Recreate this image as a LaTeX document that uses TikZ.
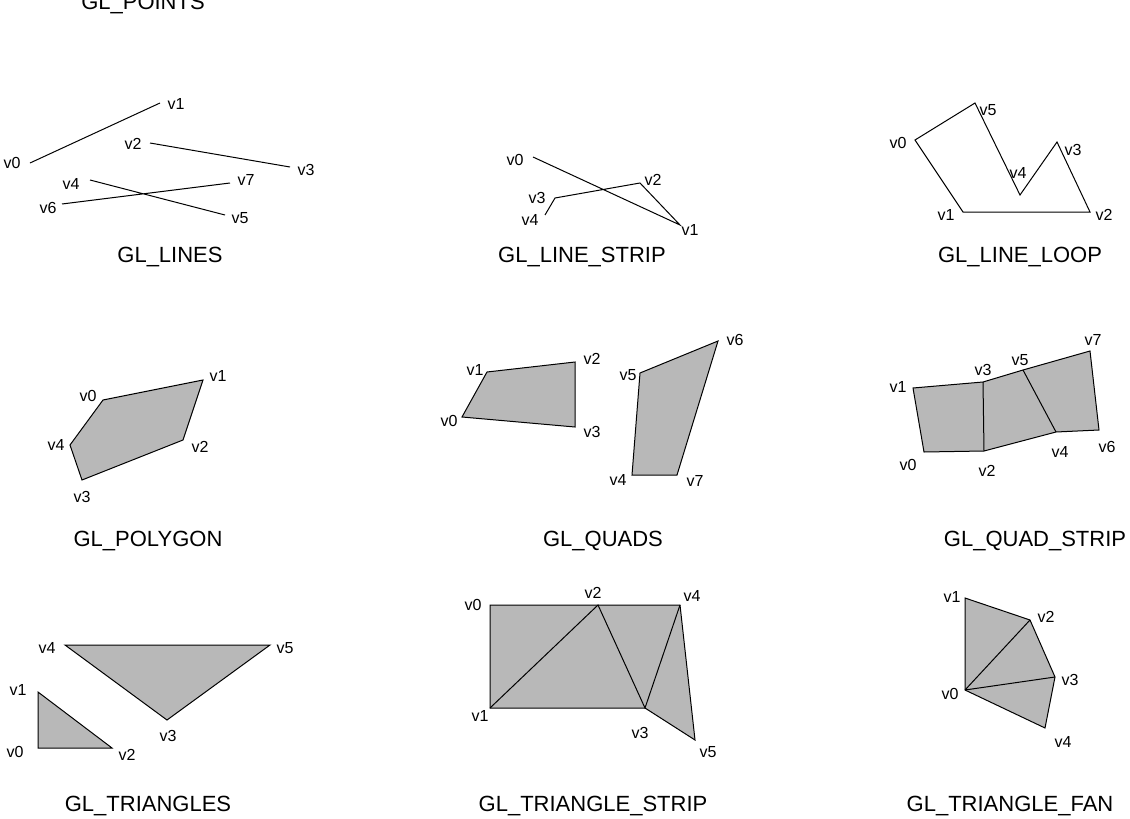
\documentclass[tikz,border=0pt]{standalone}
\usepackage{fontspec}
\setmainfont{Liberation Sans}
\usetikzlibrary{positioning}
\tikzset{vlabel/.style={inner sep=0pt,font=\fontsize{16}{16}\selectfont},
         caption/.style={inner sep=0pt,font=\fontsize{22}{22}\selectfont},
         edge/.style={draw,line width=1pt},
         face/.style={edge,fill=black!28}
}

\begin{document}
\begin{tikzpicture}[x=1pt,y=-1pt]
\useasboundingbox (0,0) rectangle (1130,819);

% GL_POINTS (cut at the top)
\node[caption] (cpoints) at (143,4) {GL\_POINTS};

% GL_LINES
\foreach \n/\p in {0/{30,163},1/{160,103},2/{150,143},3/{290,167},4/{90,180},5/{225,215},6/{62,204},7/{230,183}}
  \coordinate (l\n) at (\p);
\foreach \n/\p in {0/{12,163},1/{176,104},2/{133,144},3/{306,170},4/{71,184},5/{240,218},6/{48,208},7/{246,180}}
  \node[vlabel] (ll\n) at (\p) {v\n};
\draw[edge] (l0)--(l1) (l2)--(l3) (l4)--(l5) (l6)--(l7);
\node[caption] (clines) at (170,257) {GL\_LINES};

% GL_LINE_STRIP
\foreach \n/\p in {0/{533,157},1/{680,225},2/{640,183},3/{555,198},4/{545,215}}
  \coordinate (s\n) at (\p);
\foreach \n/\p in {0/{515,160},1/{690,230},2/{653,180},3/{537,198},4/{530,220}}
  \node[vlabel] (sl\n) at (\p) {v\n};
\draw[edge] (s0)--(s1)--(s2)--(s3)--(s4);
\node[caption] (cstrip) at (582,257) {GL\_LINE\_STRIP};

% GL_LINE_LOOP
\foreach \n/\p in {0/{915,140},1/{963,212},2/{1090,212},3/{1057,142},4/{1020,195},5/{975,103}}
  \coordinate (o\n) at (\p);
\foreach \n/\p in {0/{898,143},1/{946,215},2/{1104,215},3/{1073,150},4/{1018,173},5/{988,110}}
  \node[vlabel] (ol\n) at (\p) {v\n};
\draw[edge] (o0)--(o1)--(o2)--(o3)--(o4)--(o5)--cycle;
\node[caption] (cloop) at (1020,257) {GL\_LINE\_LOOP};

% GL_POLYGON
\foreach \n/\p in {0/{103,400},1/{203,380},2/{183,440},3/{82,480},4/{70,445}}
  \coordinate (p\n) at (\p);
\foreach \n/\p in {0/{88,396},1/{218,376},2/{200,447},3/{82,497},4/{56,445}}
  \node[vlabel] (pl\n) at (\p) {v\n};
\draw[face] (p0)--(p1)--(p2)--(p3)--(p4)--cycle;
\node[caption] (cpoly) at (148,541) {GL\_POLYGON};

% GL_QUADS
\foreach \n/\p in {0/{462,417},1/{487,372},2/{575,362},3/{575,427},4/{632,475},5/{640,373},6/{718,341},7/{677,475}}
  \coordinate (q\n) at (\p);
\foreach \n/\p in {0/{449,421},1/{475,370},2/{592,359},3/{592,432},4/{618,480},5/{628,375},6/{735,340},7/{695,481}}
  \node[vlabel] (ql\n) at (\p) {v\n};
\draw[face] (q0)--(q1)--(q2)--(q3)--cycle;
\draw[face] (q4)--(q5)--(q6)--(q7)--cycle;
\node[caption] (cquads) at (603,541) {GL\_QUADS};

% GL_QUAD_STRIP
\foreach \n/\p in {0/{924,452},1/{913,388},2/{984,451},3/{983,382},4/{1056,432},5/{1023,370},6/{1099,430},7/{1090,351}}
  \coordinate (u\n) at (\p);
\foreach \n/\p in {0/{908,465},1/{898,387},2/{987,471},3/{983,370},4/{1060,452},5/{1020,360},6/{1107,447},7/{1093,340}}
  \node[vlabel] (ul\n) at (\p) {v\n};
\draw[face] (u1)--(u3)--(u5)--(u7)--(u6)--(u4)--(u2)--(u0)--cycle;
\draw[edge] (u3)--(u2) (u5)--(u4);
\node[caption] (cqstrip) at (1035,541) {GL\_QUAD\_STRIP};

% GL_TRIANGLES
\foreach \n/\p in {0/{38,748},1/{38,692},2/{112,748},3/{167,720},4/{65,645},5/{270,645}}
  \coordinate (t\n) at (\p);
\foreach \n/\p in {0/{15,752},1/{18,690},2/{127,755},3/{168,736},4/{47,648},5/{285,648}}
  \node[vlabel] (tl\n) at (\p) {v\n};
\draw[face] (t0)--(t1)--(t2)--cycle;
\draw[face] (t3)--(t4)--(t5)--cycle;
\node[caption] (ctri) at (148,806) {GL\_TRIANGLES};

% GL_TRIANGLE_STRIP
\foreach \n/\p in {0/{490,605},1/{490,708},2/{598,605},3/{645,708},4/{680,605},5/{695,740}}
  \coordinate (r\n) at (\p);
\foreach \n/\p in {0/{473,605},1/{480,716},2/{593,593},3/{640,733},4/{692,596},5/{708,752}}
  \node[vlabel] (rl\n) at (\p) {v\n};
\draw[face] (r0)--(r2)--(r4)--(r5)--(r3)--(r1)--cycle;
\draw[edge] (r1)--(r2)--(r3)--(r4);
\node[caption] (ctstrip) at (593,806) {GL\_TRIANGLE\_STRIP};

% GL_TRIANGLE_FAN
\foreach \n/\p in {0/{965,690},1/{965,598},2/{1030,620},3/{1055,677},4/{1045,728}}
  \coordinate (f\n) at (\p);
\foreach \n/\p in {0/{950,694},1/{952,597},2/{1046,617},3/{1070,680},4/{1063,742}}
  \node[vlabel] (fl\n) at (\p) {v\n};
\draw[face] (f0)--(f1)--(f2)--(f3)--(f4)--cycle;
\draw[edge] (f0)--(f2) (f0)--(f3);
\node[caption] (cfan) at (1010,806) {GL\_TRIANGLE\_FAN};
\end{tikzpicture}
\end{document}
